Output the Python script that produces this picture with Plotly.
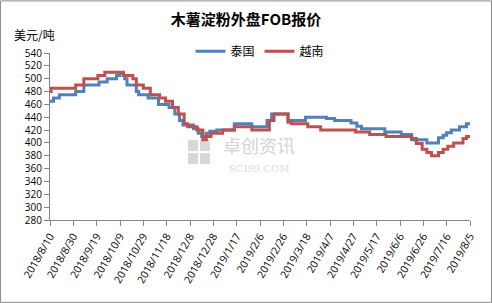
import plotly.graph_objects as go
import pandas as pd

# ---- data ----
thai_dates = ["2018-08-10", "2018-08-13", "2018-08-18", "2018-09-01", "2018-09-08", "2018-09-21",
              "2018-09-28", "2018-10-06", "2018-10-09", "2018-10-12", "2018-10-13", "2018-10-15",
              "2018-10-23", "2018-10-25", "2018-11-02", "2018-11-11", "2018-11-20", "2018-11-25",
              "2018-11-29", "2018-12-02", "2018-12-11", "2018-12-15", "2018-12-18", "2018-12-22",
              "2018-12-25", "2018-12-31", "2019-01-15", "2019-01-30", "2019-02-12", "2019-02-16",
              "2019-03-02", "2019-03-17", "2019-04-04", "2019-04-11", "2019-04-25", "2019-04-30",
              "2019-05-04", "2019-05-24", "2019-06-07", "2019-06-16", "2019-06-29", "2019-07-09",
              "2019-07-13", "2019-07-16", "2019-07-20", "2019-07-27", "2019-08-02", "2019-08-05"]
thai_price = [465, 470, 475, 480, 490, 495,
              500, 505, 508, 505, 500, 490,
              480, 475, 470, 460, 455, 445,
              435, 428, 422, 415, 410, 415,
              418, 420, 430, 425, 435, 445,
              435, 440, 438, 435, 431, 426,
              422, 417, 413, 405, 400, 408,
              412, 416, 420, 425, 430, 430]

viet_dates = ["2018-08-10", "2018-08-11", "2018-09-01", "2018-09-08", "2018-09-20", "2018-09-26",
              "2018-10-12", "2018-10-20", "2018-10-23", "2018-10-29", "2018-11-04", "2018-11-12",
              "2018-11-17", "2018-11-23", "2018-11-28", "2018-12-03", "2018-12-06", "2018-12-14",
              "2018-12-19", "2018-12-22", "2018-12-26", "2019-01-05", "2019-01-15", "2019-01-30",
              "2019-02-14", "2019-02-18", "2019-03-02", "2019-03-05", "2019-03-19", "2019-03-24",
              "2019-03-30", "2019-04-29", "2019-05-11", "2019-05-25", "2019-06-16", "2019-06-20",
              "2019-06-25", "2019-06-29", "2019-07-03", "2019-07-09", "2019-07-13", "2019-07-17",
              "2019-07-22", "2019-07-30", "2019-08-02", "2019-08-05"]
viet_price = [480, 485, 490, 500, 505, 510,
              505, 500, 490, 485, 475, 470,
              465, 455, 445, 430, 425, 420,
              405, 410, 415, 420, 425, 420,
              435, 445, 432, 430, 425, 425,
              420, 417, 413, 410, 407, 399,
              390, 385, 380, 385, 390, 395,
              400, 407, 410, 410]

tick_labels = ["2018/8/10", "2018/8/30", "2018/9/19", "2018/10/9", "2018/10/29", "2018/11/18",
               "2018/12/8", "2018/12/28", "2019/1/17", "2019/2/6", "2019/2/26", "2019/3/18",
               "2019/4/7", "2019/4/27", "2019/5/17", "2019/6/6", "2019/6/26", "2019/7/16",
               "2019/8/5"]
tick_dates = pd.to_datetime(tick_labels, format="%Y/%m/%d")

CJK = "Noto Sans CJK SC"
NUM = "Open Sans"
AXIS_COLOR = "#868686"

fig = go.Figure()
fig.add_trace(go.Scatter(x=thai_dates, y=thai_price, mode="lines", name="泰国",
                         line=dict(color="#4F81BD", width=3, shape="hv")))
fig.add_trace(go.Scatter(x=viet_dates, y=viet_price, mode="lines", name="越南",
                         line=dict(color="#C0504D", width=3, shape="hv")))

fig.update_layout(
    width=492, height=303,
    margin=dict(l=50, r=22, t=53, b=83),
    paper_bgcolor="white", plot_bgcolor="white",
    title=dict(text="<b>木薯淀粉外盘FOB报价</b>", x=0.5, xanchor="center",
               yref="container", y=1 - 20 / 303, yanchor="middle",
               font=dict(family=CJK, size=15, color="#000000")),
    legend=dict(orientation="h", x=0.5, xanchor="center", y=1.01, yanchor="middle",
                font=dict(family=CJK, size=12, color="#000000"), bgcolor="rgba(0,0,0,0)",
                itemwidth=30),
    showlegend=True,
    xaxis=dict(type="date", range=["2018-08-10", "2019-08-05"],
               tickvals=tick_dates, ticktext=tick_labels, tickangle=-60,
               ticks="outside", ticklen=5, tickcolor=AXIS_COLOR,
               showline=True, linecolor=AXIS_COLOR, linewidth=1,
               showgrid=False, zeroline=False, automargin=False,
               tickfont=dict(family=NUM, size=10.5, color="#000000")),
    yaxis=dict(range=[280, 540], dtick=20, tick0=280,
               ticks="outside", ticklen=5, tickcolor=AXIS_COLOR,
               showline=True, linecolor=AXIS_COLOR, linewidth=1,
               showgrid=False, zeroline=False, automargin=False,
               tickfont=dict(family=NUM, size=10, color="#000000")),
)

# unit label
fig.add_annotation(text="美元/吨", xref="paper", yref="paper", x=(12 - 50) / 420, y=(220 - 34) / 167.3,
                   xanchor="left", yanchor="middle", showarrow=False,
                   font=dict(family=CJK, size=12, color="#000000"))

# watermark
fig.add_annotation(text="卓创资讯", xref="paper", yref="paper", x=0.497, y=0.45,
                   xanchor="center", yanchor="middle", showarrow=False,
                   font=dict(family=CJK, size=18, color="#d4d4d4"))
fig.add_annotation(text="SCI99.COM", xref="paper", yref="paper", x=0.497, y=0.31,
                   xanchor="center", yanchor="middle", showarrow=False,
                   font=dict(family="DejaVu Serif", size=10, color="#dcdcdc"))
for (x0, y0, x1, y1) in [(188, 140, 198, 151), (200, 140, 210, 151), (188, 153, 198, 164), (200, 153, 210, 164)]:
    fig.add_shape(type="rect", xref="paper", yref="paper",
                  x0=(x0 - 50) / 420, x1=(x1 - 50) / 420,
                  y0=(220 - y1) / 167.3, y1=(220 - y0) / 167.3,
                  line=dict(width=0), fillcolor="#d8d8d8", layer="below")

# outer chart border
fig.add_shape(type="rect", xref="paper", yref="paper",
              x0=(0.5 - 50) / 420, x1=(491.5 - 50) / 420,
              y0=(220 - 302.5) / 167.3, y1=(220 - 0.5) / 167.3,
              line=dict(color="#8c8c8c", width=1), fillcolor="rgba(0,0,0,0)")

fig.write_html("out.html")
